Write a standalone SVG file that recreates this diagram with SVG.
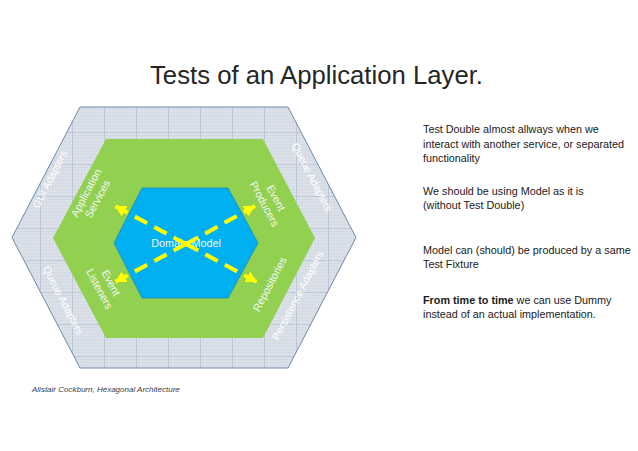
<svg xmlns="http://www.w3.org/2000/svg" width="638" height="451" viewBox="0 0 638 451">
<style>
.title{font-family:"Liberation Sans",Arial,sans-serif;font-size:25px;fill:#262626}
.note{font-family:"Liberation Sans",Arial,sans-serif;font-size:10.8px;fill:#1a1a1a}
.lbl{font-family:"Liberation Sans",Arial,sans-serif;font-size:10.5px;fill:#ffffff;text-anchor:middle}
.glbl{font-family:"Liberation Sans",Arial,sans-serif;font-size:10.8px;fill:#f4f8fb;text-anchor:middle}
.credit{font-family:"Liberation Sans",Arial,sans-serif;font-size:8px;font-style:italic;fill:#404040}
.arrow{fill:none;stroke:#FFFF00;stroke-width:4;stroke-dasharray:14 8}
</style>
<defs>
<pattern id="grid" patternUnits="userSpaceOnUse" x="8" y="4" width="32" height="32">
<rect width="32" height="32" fill="#DDE2EB"/>
<path d="M3.2 0V32M6.4 0V32M9.6 0V32M12.8 0V32M16 0V32M19.2 0V32M22.4 0V32M25.6 0V32M28.8 0V32M0 3.2H32M0 6.4H32M0 9.6H32M0 12.8H32M0 16H32M0 19.2H32M0 22.4H32M0 25.6H32M0 28.8H32" stroke="#CBD2DD" stroke-width="0.5"/>
<path d="M0.4 0V32M0 0.4H32" stroke="#ADB9CC" stroke-width="0.7"/>
</pattern>
<marker id="ah" markerUnits="userSpaceOnUse" markerWidth="12" markerHeight="12" refX="11" refY="6" orient="auto">
<path d="M0 0L11 6L0 12Z" fill="#FFFF00"/>
</marker>
</defs>
<rect width="638" height="451" fill="#ffffff"/>
<text class="title" x="150" y="84" textLength="333" lengthAdjust="spacingAndGlyphs">Tests of an Application Layer.</text>

<g id="adapters-ring">
<polygon points="80,107 288,107 356,237.5 288,368 80,368 12,237.5" fill="url(#grid)" stroke="#7088AC" stroke-width="1"/>
<text class="lbl" transform="translate(53,181) rotate(-62.5)">GUI Adapters</text>
<text class="lbl" transform="translate(309,179) rotate(62.5)">Queue Adapters</text>
<text class="lbl" transform="translate(60,302) rotate(62.5)">Queue Adapters</text>
<text class="lbl" transform="translate(301,297) rotate(-62.5)">Persistence Adapters</text>
</g>

<g id="application-ring">
<polygon points="106,139 263,139 315,238 263,338 106,338 53,238" fill="#92D050"/>
<text class="glbl" transform="translate(92,196) rotate(-62)"><tspan x="0" y="-3">Application</tspan><tspan x="0" y="10">Services</tspan></text>
<text class="glbl" transform="translate(270,201) rotate(62)"><tspan x="0" y="-3">Event</tspan><tspan x="0" y="10">Producers</tspan></text>
<text class="glbl" transform="translate(105,286) rotate(62)"><tspan x="0" y="-3">Event</tspan><tspan x="0" y="10">Listeners</tspan></text>
<text class="glbl" transform="translate(273,286) rotate(-62)">Repositories</text>
</g>

<g id="domain-model">
<polygon points="142,188 228,188 258,243 228,298 142,298 114,243" fill="#00B0F0" stroke="#1E88C0" stroke-width="0.8"/>
<text class="glbl" x="186" y="247" fill="#EAF6FF">Domain Model</text>
</g>

<g id="connectors">
<line class="arrow" x1="186" y1="244" x2="115" y2="206" marker-end="url(#ah)"/>
<line class="arrow" x1="186" y1="244" x2="255" y2="206" marker-end="url(#ah)"/>
<line class="arrow" x1="186" y1="244" x2="115" y2="282" marker-end="url(#ah)"/>
<line class="arrow" x1="186" y1="244" x2="257" y2="282" marker-end="url(#ah)"/>
</g>

<text class="note" x="423" y="133">Test Double almost allways when we</text>
<text class="note" x="423" y="148">interact with another service, or separated</text>
<text class="note" x="423" y="162">functionality</text>
<text class="note" x="423" y="195">We should be using Model as it is</text>
<text class="note" x="423" y="209">(without Test Double)</text>
<text class="note" x="423" y="254">Model can (should) be produced by a same</text>
<text class="note" x="423" y="268">Test Fixture</text>
<text class="note" x="423" y="304"><tspan font-weight="bold">From time to time</tspan> we can use Dummy</text>
<text class="note" x="423" y="318">instead of an actual implementation.</text>

<text class="credit" x="32" y="392">Alistair Cockburn, Hexagonal Architecture</text>
</svg>
